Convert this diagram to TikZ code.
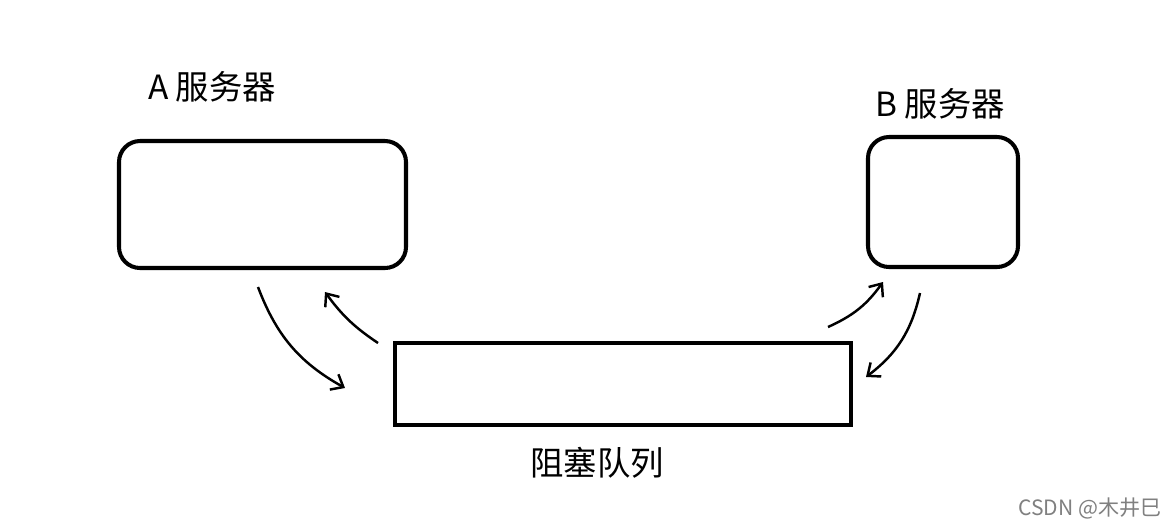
\documentclass[tikz,border=0pt]{standalone}
\usepackage{fontspec}
\setmainfont{Noto Sans CJK SC}
\usetikzlibrary{arrows.meta}

\begin{document}
\begin{tikzpicture}[x=0.02cm, y=-0.02cm, server/.style={draw, line width=2.3pt, rounded corners=12pt, inner sep=0pt}, queue/.style={draw, line width=2.3pt, inner sep=0pt}, label/.style={font=\fontsize{19}{21}\selectfont}, flow/.style={-{Straight Barb[length=6pt, width=10pt]}, line width=1.4pt}]
            \useasboundingbox[fill=white] (0,0) rectangle (1173,529);
            % boxes
            \draw[server] (119,141) rectangle (406,268);
            \draw[server] (868,137) rectangle (1018,267);
            \draw[queue] (395,343) rectangle (851,425);
            \coordinate (a1) at (258,287);
            \coordinate (a2) at (345,388);
            \coordinate (a3) at (378,343);
            \coordinate (a4) at (325,292);
            \coordinate (b1) at (828,327);
            \coordinate (b2) at (883,282);
            \coordinate (b3) at (920,293);
            \coordinate (b4) at (866,377);
            % labels
            \node[label] (la) at (212,87) {A 服务器};
            \node[label] (lb) at (940,104) {B 服务器};
            \node[label] (lq) at (597,463) {阻塞队列};
            \node[font=\fontsize{12}{14}\selectfont, text=gray] (csdn) at (1090,508) {CSDN @木井巳};
            % arrows
            \draw[flow] (a1) to[bend right=20] (a2);
            \draw[flow] (a3) to[bend left=10] (a4);
            \draw[flow] (b1) to[bend right=15] (b2);
            \draw[flow] (b3) to[bend left=20] (b4);
        \end{tikzpicture}
\end{document}
